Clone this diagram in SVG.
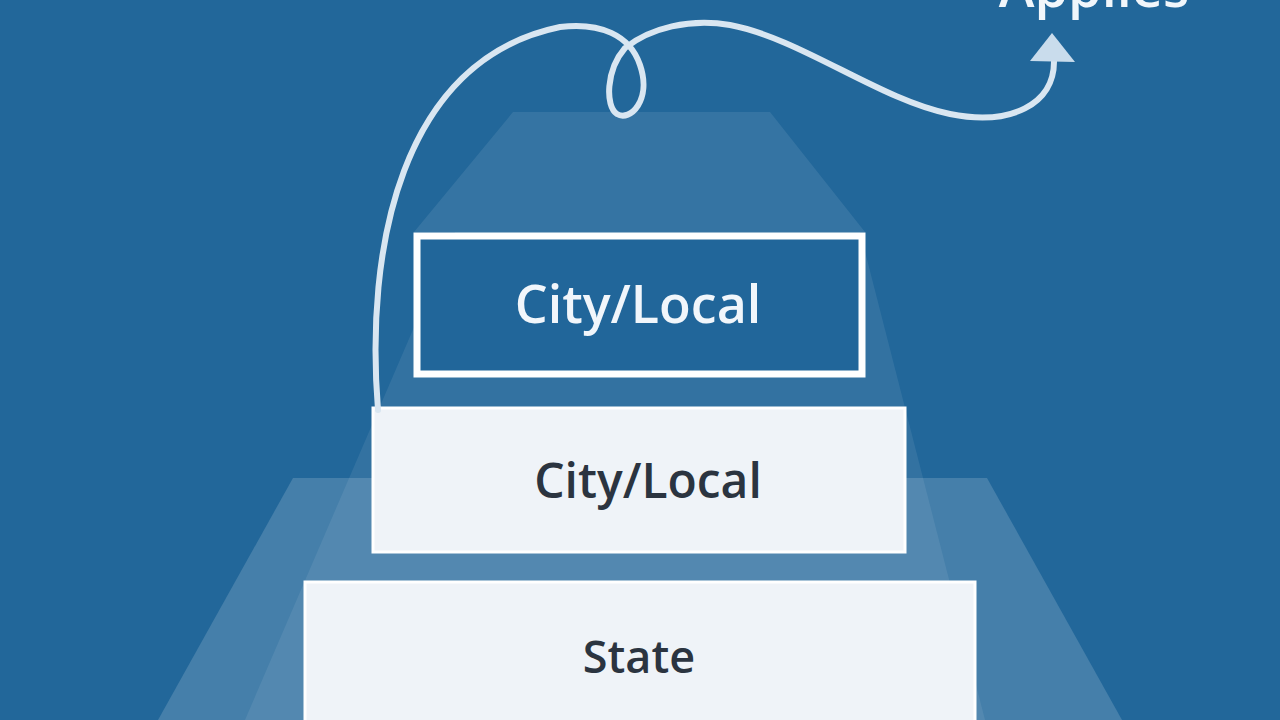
<svg xmlns="http://www.w3.org/2000/svg" width="1280" height="720" viewBox="0 0 1280 720">
  <defs>
    <style>
      .lbl { font-family: "Open Sans", "Liberation Sans", sans-serif; font-weight: 600; text-anchor: middle; }
      .dark { fill: #2b3440; }
      .light { fill: #f1f6fb; }
      .layer { fill: #ffffff; }
      .box { fill: #eff3f8; stroke: #ffffff; stroke-width: 3; }
      .flow { fill: none; stroke: #d9e6f1; stroke-width: 6; stroke-linecap: round; stroke-linejoin: round; }
    </style>
  </defs>
  <rect x="0" y="0" width="1280" height="720" fill="#22679a"/>

  <g id="background-layers">
    <polygon class="layer" fill-opacity="0.09" points="513,112 770,112 865,232 414,232"/>
    <polygon class="layer" fill-opacity="0.08" points="455,232 860,232 985,720 245,720"/>
    <polygon class="layer" fill-opacity="0.16" points="293,478 987,478 1122,720 158,720"/>
  </g>

  <g id="node-state">
    <rect class="box" x="305" y="582" width="670" height="150"/>
    <text class="lbl dark" x="639" y="673" font-size="45">State</text>
  </g>

  <g id="node-city-local-2">
    <rect class="box" x="373" y="408" width="532" height="144"/>
    <text class="lbl dark" x="648" y="498" font-size="48">City/Local</text>
  </g>

  <g id="node-city-local-1">
    <rect x="417" y="236" width="445" height="138" fill="#21669a" stroke="#ffffff" stroke-width="7"/>
    <text class="lbl light" x="638" y="323" font-size="52">City/Local</text>
  </g>

  <g id="label-applies">
    <text class="lbl light" x="1094" y="7" font-size="54">Applies</text>
  </g>

  <g id="connectors">
    <path class="flow" d="M 378,410 C 365,250 400,60 560,27 C 600,22 630,35 640,65 C 652,100 630,122 617,114 C 605,106 606,70 625,48 C 650,28 690,18 730,25 C 800,38 880,100 950,114 C 1010,126 1055,105 1054,60"/>
    <polygon points="1052,33 1030,61 1075,62" fill="#c9dcec"/>
  </g>
</svg>
